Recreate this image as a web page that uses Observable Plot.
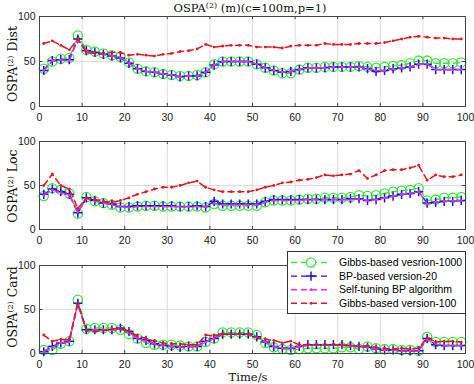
<!DOCTYPE html>
<html><head><meta charset="utf-8">
<script src="https://cdn.jsdelivr.net/npm/d3@7"></script>
<script src="https://cdn.jsdelivr.net/npm/@observablehq/plot@0.6"></script>
<style>
html,body{margin:0;padding:0;background:#fff;overflow:hidden;}
#wrap{position:relative;width:474px;height:384px;overflow:hidden;background:#fff;}
.serif{font-family:"DejaVu Serif","Liberation Serif",serif;font-size:11.5px;color:#111;white-space:nowrap;position:absolute;line-height:14px;}
.ylab{font-size:12.5px;transform:translate(-50%,-50%) rotate(-90deg);}
.sup{font-size:8px;position:relative;top:-4px;}
#legend{position:absolute;left:287px;top:251px;width:177px;height:61px;border:1px solid #333;background:#fff;}
</style>
</head><body>
<div id="wrap">
  <div class="serif" id="title" style="left:250px;top:1px;transform:translateX(-50%);">OSPA<span class="sup">(2)</span> (m)(c=100m,p=1)</div>
  <div class="serif ylab" style="left:14px;top:64px;">OSPA<span class="sup">(2)</span> Dist</div>
  <div class="serif ylab" style="left:14px;top:186px;">OSPA<span class="sup">(2)</span> Loc</div>
  <div class="serif ylab" style="left:14px;top:307px;">OSPA<span class="sup">(2)</span> Card</div>
  <div class="serif" style="left:248px;top:370px;transform:translateX(-50%);">Time/s</div>
</div>
<script>
const time = [1,3,5,7,9,11,13,15,17,19,21,23,25,27,29,31,33,35,37,39,41,43,45,47,49,51,53,55,57,59,61,63,65,67,69,71,73,75,77,79,81,83,85,87,89,91,93,95,97,99];
const xTicks = [0,10,20,30,40,50,60,70,80,90,100];
const yTicks = [0,50,100];
const seriesNames = ["Gibbs-based vesrion-1000","BP-based version-20","Self-tuning BP algorithm","Gibbs-based version-100"];

// Panel 1: OSPA(2) Dist
const distGibbs1000 = [42,50,53,54,79,63,61,59,57,55,49,42,39,38,36,35,34,34,35,38,47,50,50,50,50,47,43,40,37,37,41,43,43,44,44,44,44,45,44,43,44,45,46,48,51,51,48,48,48,49];
const distBP20      = [40,51,52,52,75,62,60,58,56,54,48,42,39,38,36,35,33,34,34,38,46,50,50,50,50,47,43,40,38,39,41,43,43,43,44,44,44,44,42,39,40,42,43,44,47,47,41,41,41,41];
const distSelfBP    = [40,51,52,51,74,62,59,58,56,54,48,42,39,38,36,35,33,34,34,38,46,50,50,50,50,47,43,40,38,39,41,43,43,43,44,44,44,44,42,40,40,42,43,44,47,47,41,41,41,41];
const distGibbs100  = [70,73,68,63,75,60,59,59,60,60,57,58,57,56,58,59,61,62,64,69,66,67,68,68,68,66,66,66,65,67,68,68,68,70,69,69,69,70,70,70,71,73,75,77,78,77,76,76,75,75];

// Panel 2: OSPA(2) Loc
const locGibbs1000 = [38,47,45,41,18,37,32,30,28,25,25,26,27,27,26,26,26,26,26,25,29,27,27,27,27,27,31,33,33,33,34,35,35,36,36,36,37,39,38,39,41,43,44,45,47,33,34,36,36,37];
const locBP20      = [40,46,43,40,19,36,33,30,29,26,26,27,27,27,27,27,26,26,27,26,32,29,29,29,29,29,32,34,34,34,34,34,34,34,34,34,35,35,33,34,36,38,40,41,43,30,31,32,32,33];
const locSelfBP    = [39,45,42,39,20,35,33,30,28,26,25,26,26,26,26,26,26,26,26,26,30,28,28,28,28,28,31,33,33,33,33,34,34,34,34,34,34,35,33,34,36,38,40,41,43,29,31,32,32,33];
const locGibbs100  = [50,63,50,46,24,36,34,32,31,33,36,40,43,46,48,48,50,53,55,48,45,43,43,43,43,45,48,50,53,54,56,57,59,62,61,62,63,67,58,62,67,68,68,70,73,56,62,60,60,62];

// Panel 3: OSPA(2) Card
const cardGibbs1000 = [4,4,11,14,61,28,29,29,29,27,22,17,12,10,10,10,9,8,8,13,17,24,24,24,24,21,12,7,5,4,5,6,6,6,6,7,7,5,8,6,5,5,4,4,3,19,13,13,13,13];
const cardBP20      = [2,8,12,14,57,27,27,27,27,29,25,17,15,11,9,8,7,8,8,14,17,22,22,22,22,19,13,8,6,6,8,10,10,10,10,10,9,8,7,5,4,4,3,3,3,17,10,9,9,9];
const cardSelfBP    = [2,7,12,13,56,26,27,27,27,28,24,17,14,11,9,8,7,8,8,13,17,22,22,22,22,19,13,8,6,6,8,9,10,10,10,10,9,8,7,5,4,4,3,3,3,16,11,9,9,9];
const cardGibbs100  = [21,14,16,16,57,26,25,26,28,28,25,20,17,14,12,11,11,10,10,21,20,22,22,22,22,18,16,15,12,14,10,10,10,10,10,9,9,8,9,7,6,5,6,5,6,18,13,14,14,13];

const colors = {g:"#33ea33", b:"#1414e6", m:"#ff22ff", r:"#e8141e"};
const dash = "6,4";
// stroke "+" symbol whose half-arm length equals r
const plusSymbol = {draw(ctx, size){ const r = Math.sqrt(size/Math.PI); ctx.moveTo(-r,0); ctx.lineTo(r,0); ctx.moveTo(0,-r); ctx.lineTo(0,r); }};

function panel(top, mt, plotH, g, b, m, r) {
  const data = time.map((t,i)=>({t, g:g[i], b:b[i], m:m[i], r:r[i]}));
  const mb = 22;
  const svg = Plot.plot({
    width: 474, height: mt + plotH + mb,
    marginLeft: 39, marginRight: 9, marginTop: mt, marginBottom: mb,
    style: {background:"transparent", fontFamily:"'Liberation Sans', Arial, sans-serif", fontSize:"10.5px", color:"#1a1a1a"},
    x: {domain:[0,100], ticks:xTicks, tickSize:0, tickPadding:7, label:null},
    y: {domain:[0,100], ticks:yTicks, tickSize:0, tickPadding:4, label:null},
    marks: [
      Plot.gridX(xTicks, {stroke:"#dcdcdc", strokeOpacity:1}),
      Plot.gridY(yTicks, {stroke:"#dcdcdc", strokeOpacity:1}),
      Plot.ruleX(xTicks, {y1:0, y2:3.5, stroke:"#444"}),
      Plot.ruleX(xTicks, {y1:96.5, y2:100, stroke:"#444"}),
      Plot.ruleY(yTicks, {x1:0, x2:0.8, stroke:"#444"}),
      Plot.ruleY(yTicks, {x1:99.2, x2:100, stroke:"#444"}),
      Plot.line(data, {x:"t", y:"g", stroke:colors.g, strokeWidth:1.4, strokeDasharray:dash}),
      Plot.dot(data, {x:"t", y:"g", r:4.6, stroke:colors.g, strokeWidth:1.3, fill:"none"}),
      Plot.line(data, {x:"t", y:"b", stroke:colors.b, strokeWidth:1.4, strokeDasharray:dash}),
      Plot.dot(data, {x:"t", y:"b", symbol:plusSymbol, r:4.6, stroke:colors.b, strokeWidth:1.5, fill:"none"}),
      Plot.line(data, {x:"t", y:"m", stroke:colors.m, strokeWidth:1.4, strokeDasharray:dash}),
      Plot.dot(data, {x:"t", y:"m", r:1.3, fill:colors.m, stroke:"none"}),
      Plot.line(data, {x:"t", y:"r", stroke:colors.r, strokeWidth:1.5, strokeDasharray:dash}),
      Plot.dot(data, {x:"t", y:"r", r:1.4, fill:colors.r, stroke:"none"}),
      Plot.frame({stroke:"#444", strokeWidth:1})
    ]
  });
  svg.style.position = "absolute";
  svg.style.top = top + "px";
  svg.style.left = "0px";
  return svg;
}

const wrap = document.getElementById("wrap");
wrap.appendChild(panel(0, 16, 90, distGibbs1000, distBP20, distSelfBP, distGibbs100));
wrap.appendChild(panel(125, 16, 88, locGibbs1000, locBP20, locSelfBP, locGibbs100));
wrap.appendChild(panel(249, 16, 88, cardGibbs1000, cardBP20, cardSelfBP, cardGibbs100));

// Legend
const leg = document.createElement("div");
leg.id = "legend";
wrap.appendChild(leg);
const ls = d3.select(leg).append("svg").attr("width",177).attr("height",61).style("display","block");
const legColors = [colors.g, colors.b, colors.m, colors.r];
seriesNames.forEach((name, i) => {
  const y = 10.5 + i*13.6;
  const row = ls.append("g").attr("transform", `translate(0,${y})`);
  row.append("line").attr("x1",3).attr("x2",43).attr("y1",0).attr("y2",0)
    .attr("stroke",legColors[i]).attr("stroke-width",1.4).attr("stroke-dasharray","6,4");
  if (i===0) row.append("circle").attr("cx",23).attr("cy",0).attr("r",4.6).attr("fill","#fff").attr("stroke",legColors[i]).attr("stroke-width",1.3);
  else if (i===1) row.append("path").attr("d","M18.4,0H27.6M23,-4.6V4.6").attr("stroke",legColors[i]).attr("stroke-width",1.5);
  else row.append("circle").attr("cx",23).attr("cy",0).attr("r",1.4).attr("fill",legColors[i]);
  row.append("text").attr("x",51).attr("y",0).attr("dy","0.35em")
    .attr("font-family","'Liberation Sans', Arial, sans-serif").attr("font-size","10.5px").attr("fill","#000").text(name);
});
</script>
</body></html>
